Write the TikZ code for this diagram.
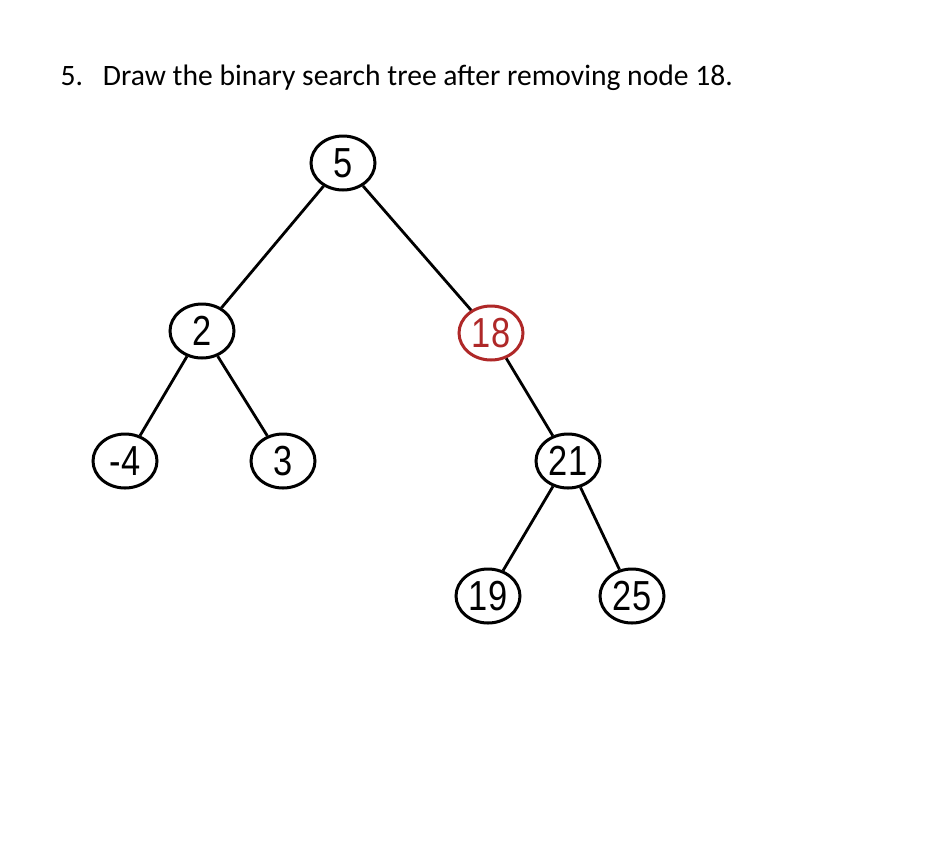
\documentclass[tikz,border=0pt]{standalone}
\usepackage{fontspec}
\setmainfont{Carlito}
\newfontfamily\arialfont{Liberation Sans}
\usetikzlibrary{shapes.geometric}
\definecolor{delred}{RGB}{175,40,40}
\newcommand{\nd}[1]{\scalebox{0.82}[1]{#1}}
\begin{document}
\begin{tikzpicture}[x=1pt,y=-1pt,
  tn/.style={draw=black,ellipse,line width=3pt,minimum width=64pt,minimum height=54pt,inner sep=0pt,font=\arialfont\fontsize{42}{42}\selectfont,fill=white},
  ed/.style={line width=2.8pt}]
\useasboundingbox (0,0) rectangle (934,852);
\node[anchor=base west,font=\fontsize{29.6}{29.6}\selectfont] (title) at (57,85) {5.\hspace{20pt}Draw the binary search tree after removing node 18.};
\node[tn] (n5) at (343,163) {\nd{5}};
\node[tn] (n2) at (202,331) {\nd{2}};
\node[tn,draw=delred,text=delred] (n18) at (491,333) {\nd{18}};
\node[tn] (nm4) at (125,461) {\nd{-4}};
\node[tn] (n3) at (283,461) {\nd{3}};
\node[tn] (n21) at (568,461) {\nd{21}};
\node[tn] (n19) at (488,596) {\nd{19}};
\node[tn] (n25) at (632,596) {\nd{25}};
\draw[ed] (n5) -- (n2);
\draw[ed] (n5) -- (n18);
\draw[ed] (n2) -- (nm4);
\draw[ed] (n2) -- (n3);
\draw[ed] (n18) -- (n21);
\draw[ed] (n21) -- (n19);
\draw[ed] (n21) -- (n25);
\end{tikzpicture}
\end{document}
